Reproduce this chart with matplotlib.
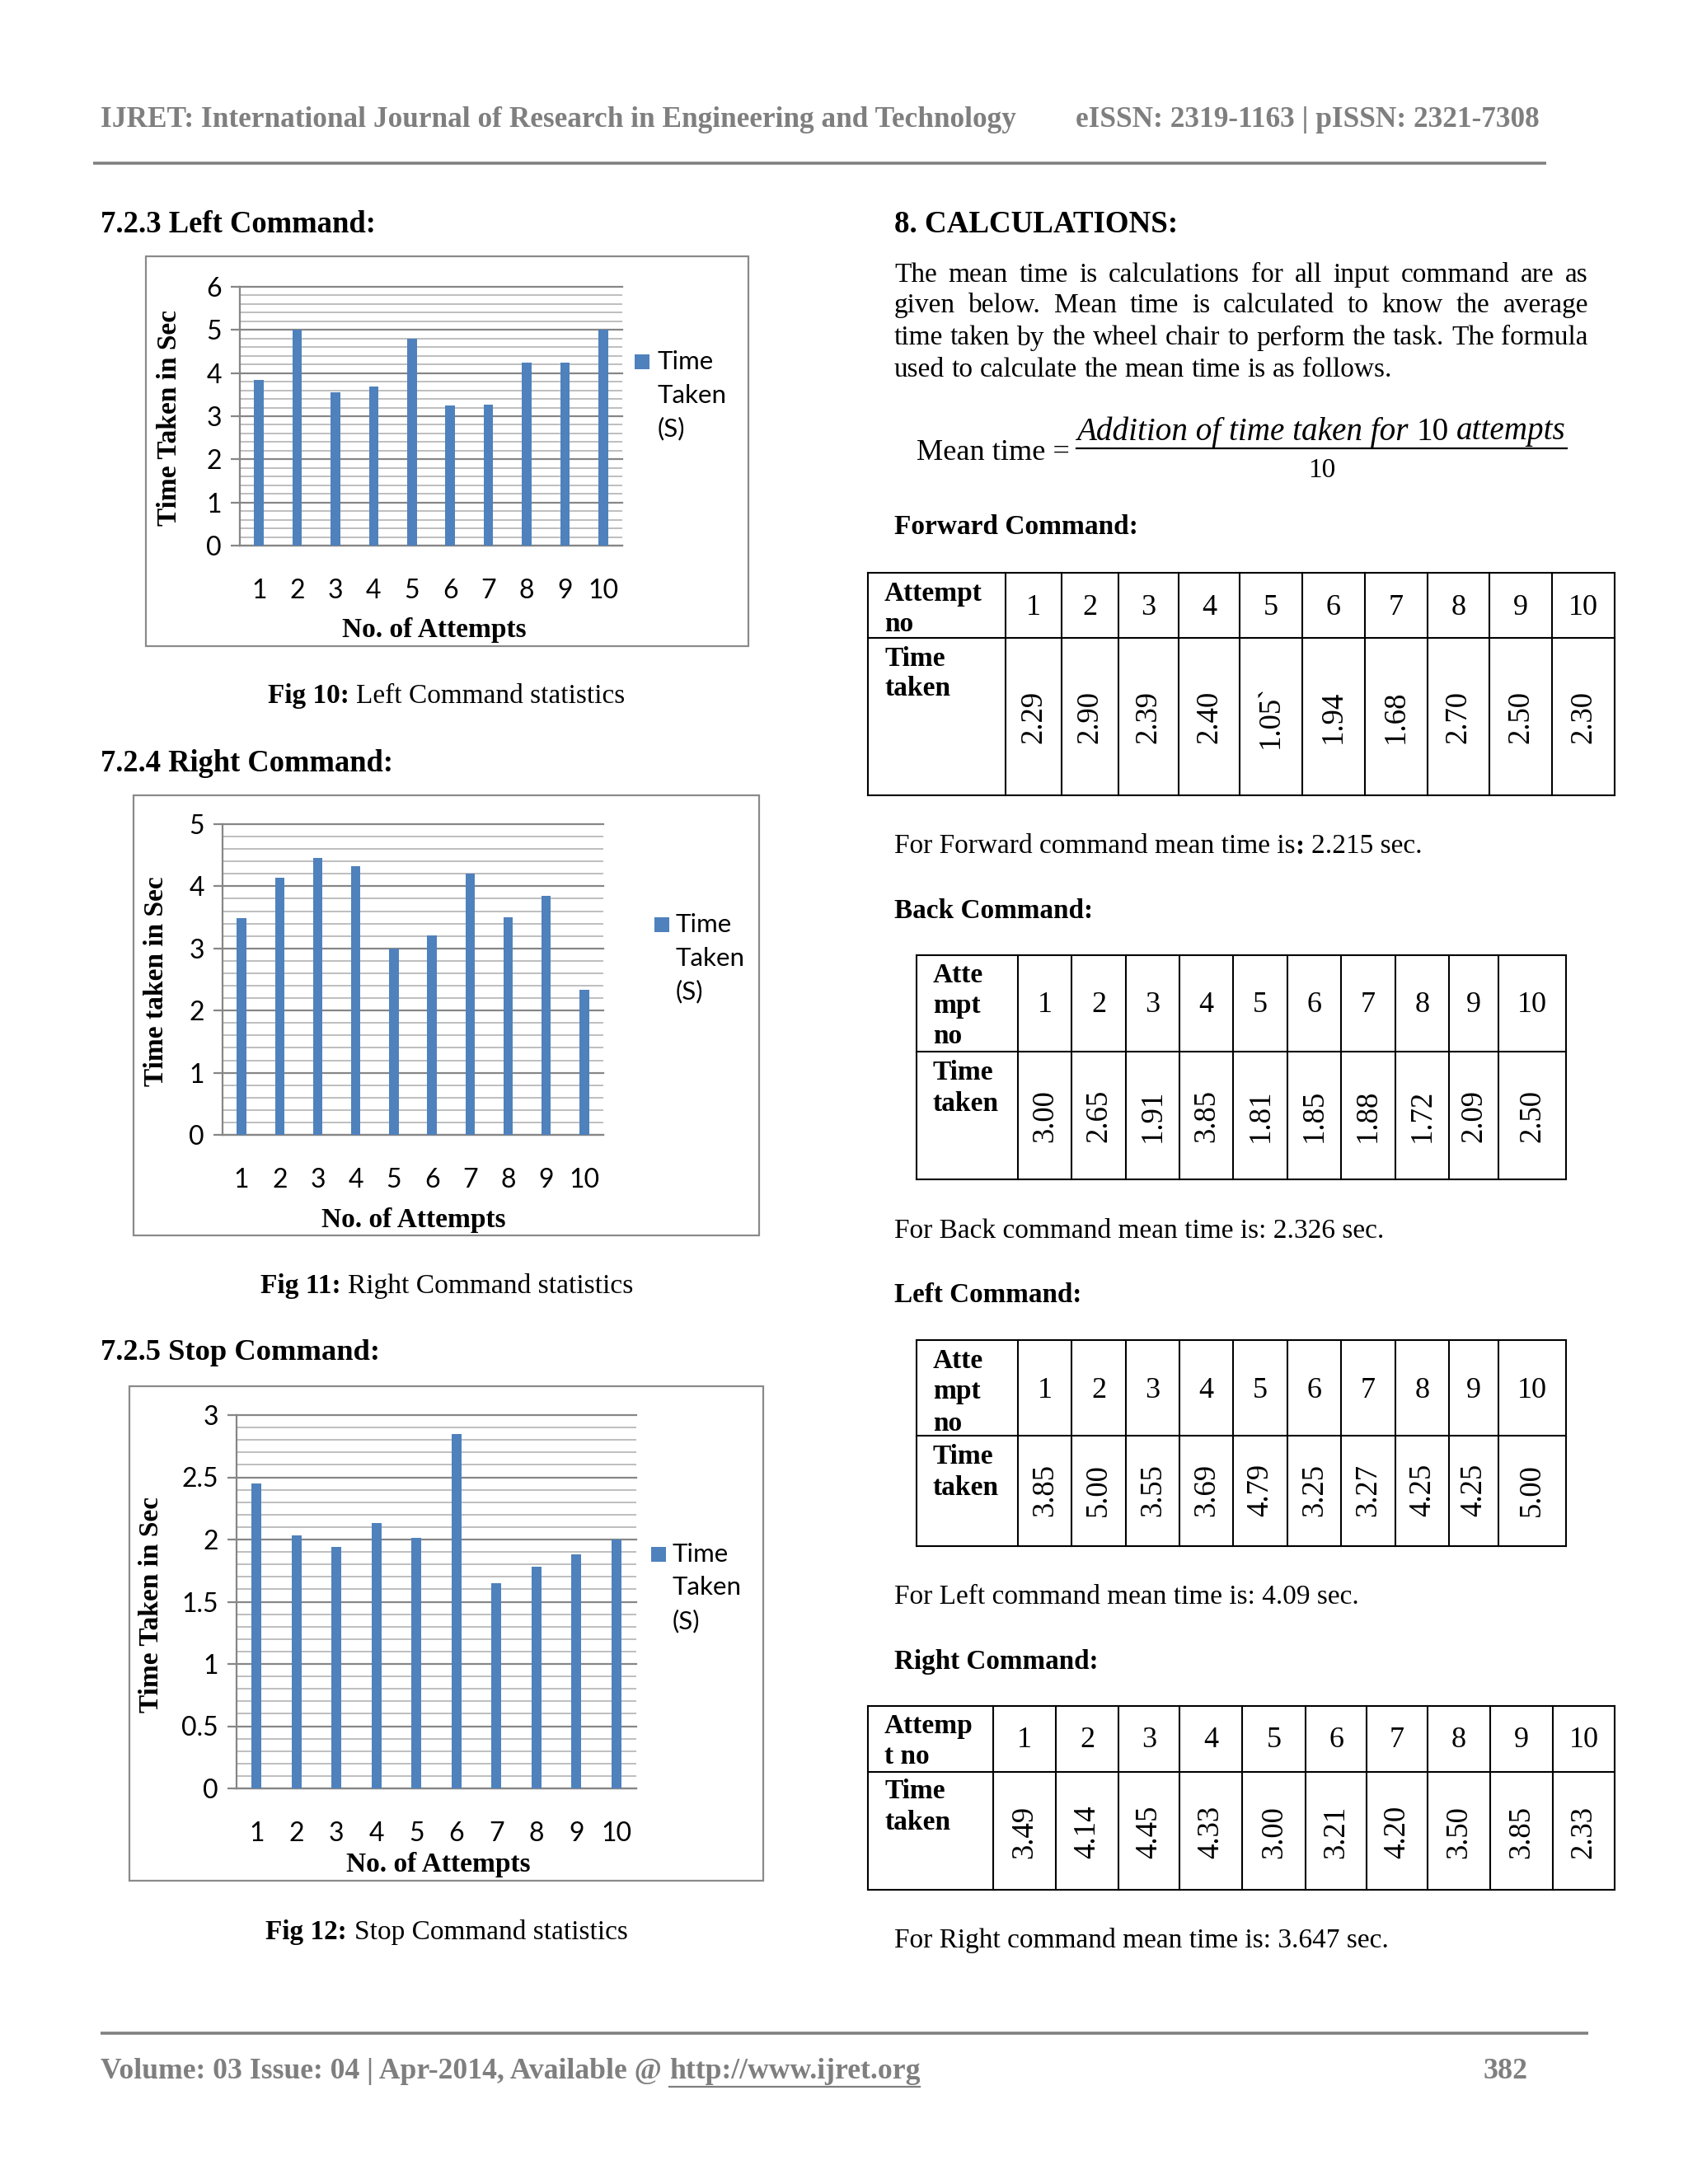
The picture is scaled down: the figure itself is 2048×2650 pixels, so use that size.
import matplotlib
matplotlib.use('Agg')
import matplotlib.pyplot as plt
from matplotlib.patches import Rectangle
from matplotlib.ticker import FuncFormatter
import numpy as np

W, H = 2048, 2650
SERIF = ['Liberation Serif', 'DejaVu Serif']
SANS = ['Lato', 'DejaVu Sans']
BAR = '#4F81BD'
GRAYTXT = '#7f7f7f'
DY = 3  # baseline nudge for page text

# ---------------- data ----------------
attempts = list(range(1, 11))
left_times = [3.85, 5.00, 3.55, 3.69, 4.79, 3.25, 3.27, 4.25, 4.25, 5.00]
right_times = [3.49, 4.14, 4.45, 4.33, 3.00, 3.21, 4.20, 3.50, 3.85, 2.33]
stop_times = [2.45, 2.03, 1.94, 2.13, 2.01, 2.85, 1.65, 1.78, 1.88, 2.00]
forward_table = ['2.29', '2.90', '2.39', '2.40', '1.05`', '1.94', '1.68', '2.70', '2.50', '2.30']
back_table = ['3.00', '2.65', '1.91', '3.85', '1.81', '1.85', '1.88', '1.72', '2.09', '2.50']
left_table = [f'{v:.2f}' for v in left_times]
right_table = [f'{v:.2f}' for v in right_times]
legend_label = ['Time', 'Taken', '(S)']

header_left = 'IJRET: International Journal of Research in Engineering and Technology'
header_right = 'eISSN: 2319-1163 | pISSN: 2321-7308'
footer_left = 'Volume: 03 Issue: 04 | Apr-2014, Available @'
footer_url = 'http://www.ijret.org'
page_no = '382'
paragraph = ['The mean time is calculations for all input command are as',
             'given below. Mean time is calculated to know the average',
             'time taken by the wheel chair to perform the task. The formula',
             'used to calculate the mean time is as follows.']

# ---------------- page ----------------
fig = plt.figure(figsize=(W / 100, H / 100), dpi=100)
fig.patch.set_facecolor('white')
page = fig.add_axes([0, 0, 1, 1])
page.set_xlim(0, W)
page.set_ylim(H, 0)
page.axis('off')
R = fig.canvas.get_renderer()


def twidth(s, size, weight='normal', style='normal', family=SERIF):
    t = page.text(0, 0, s, fontsize=size, fontweight=weight, fontstyle=style, family=family)
    w = t.get_window_extent(R).width
    t.remove()
    return w


def run(x, y, parts, size, ha='left', target=None, color='black', family=SERIF, va='center'):
    """parts: list of (text, weight, style, space_after)"""
    def measure(sz):
        ws = [twidth(p[0], sz, p[1], p[2], family) for p in parts]
        sp = twidth('a a', sz, family=family) - twidth('aa', sz, family=family)
        gaps = [sp if p[3] else 0 for p in parts]
        return ws, gaps
    ws, gaps = measure(size)
    total = sum(ws) + sum(gaps[:-1])
    if target:
        size = size * target / total
        ws, gaps = measure(size)
        total = sum(ws) + sum(gaps[:-1])
    x0 = x - total / 2 if ha == 'center' else (x - total if ha == 'right' else x)
    start = x0
    for p, w, g in zip(parts, ws, gaps):
        page.text(x0, y + DY, p[0], fontsize=size, fontweight=p[1], fontstyle=p[2],
                  family=family, color=color, ha='left', va=va)
        x0 += w + g
    return start, x0, size


def txt(x, y, s, size, weight='normal', **kw):
    kw.setdefault('family', SERIF)
    kw.setdefault('va', 'center')
    page.text(x, y + DY, s, fontsize=size, fontweight=weight, **kw)


# header / footer
run(122, 142, [(header_left, 'bold', 'normal', False)], 29, target=1109, color=GRAYTXT)
run(1305, 142, [(header_right, 'bold', 'normal', False)], 29, target=562, color=GRAYTXT)
page.plot([113, 1876], [198, 198], color='#808080', lw=2.6, solid_capstyle='butt')
page.plot([122, 1927], [2467, 2467], color='#808080', lw=2.6, solid_capstyle='butt')
s0, s1, fsz = run(122, 2511, [(footer_left, 'bold', 'normal', True), (footer_url, 'bold', 'normal', False)],
                  29, target=993, color=GRAYTXT)
uw = twidth(footer_url, fsz, 'bold')
page.plot([s1 - uw, s1], [2529 + DY, 2529 + DY], color=GRAYTXT, lw=1.6)
run(1854, 2511, [(page_no, 'bold', 'normal', False)], 29, ha='right', target=54, color=GRAYTXT)

# ---------------- left column headings / captions ----------------
run(122, 270, [('7.2.3 Left Command:', 'bold', 'normal', False)], 26, target=334)
run(122, 923, [('7.2.4 Right Command:', 'bold', 'normal', False)], 26, target=356)
run(122, 1639, [('7.2.5 Stop Command:', 'bold', 'normal', False)], 26, target=339)
run(542, 842, [('Fig 10:', 'bold', 'normal', True), ('Left Command statistics', 'normal', 'normal', False)], 24, ha='center', target=433)
run(542, 1558, [('Fig 11:', 'bold', 'normal', True), ('Right Command statistics', 'normal', 'normal', False)], 24, ha='center', target=453)
run(542, 2341, [('Fig 12:', 'bold', 'normal', True), ('Stop Command statistics', 'normal', 'normal', False)], 24, ha='center', target=439)


# ---------------- charts ----------------
def bar_chart(box, plot, values, ymax, major, minor, ylabel, ylab_xy, xlab_xy, leg_xy, leg_x, leg_ys):
    bx0, by0, bx1, by1 = box
    page.add_patch(Rectangle((bx0, by0), bx1 - bx0, by1 - by0, fill=False,
                             edgecolor='#8a8a8a', lw=1.6))
    px0, py0, px1, py1 = plot
    ax = fig.add_axes([px0 / W, 1 - py1 / H, (px1 - px0) / W, (py1 - py0) / H])
    ax.set_facecolor('none')
    ax.bar(attempts, values, width=0.25, color=BAR, zorder=3)
    ax.set_xlim(0.5, 10.5)
    ax.set_ylim(0, ymax)
    ax.set_xticks(attempts)
    ax.set_yticks(np.arange(0, ymax + 1e-9, major))
    ax.set_yticks(np.arange(0, ymax + 1e-9, minor), minor=True)
    ax.yaxis.set_major_formatter(FuncFormatter(lambda v, p: f'{v:g}'))
    ax.yaxis.grid(True, which='minor', color='#b9b9b9', lw=1.3, zorder=0)
    ax.yaxis.grid(True, which='major', color='#868686', lw=1.6, zorder=1)
    ax.set_axisbelow(True)
    ax.tick_params(axis='x', length=0, pad=29, labelsize=23)
    ax.tick_params(axis='y', which='major', length=8, width=1.6, color='#868686',
                   pad=8, labelsize=23)
    ax.tick_params(axis='y', which='minor', length=0)
    for lab in ax.get_xticklabels() + ax.get_yticklabels():
        lab.set_family(SANS)
    for s in ['top', 'right']:
        ax.spines[s].set_visible(False)
    ax.spines['left'].set_color('#868686')
    ax.spines['left'].set_linewidth(1.6)
    ax.spines['bottom'].set_color('#868686')
    ax.spines['bottom'].set_linewidth(1.6)
    for gl in ax.yaxis.get_gridlines():
        gl.set_clip_on(False)
    txt(ylab_xy[0], ylab_xy[1], ylabel, 24, 'bold', rotation=90, ha='center')
    txt(xlab_xy[0], xlab_xy[1], 'No. of Attempts', 24, 'bold', ha='center')
    page.add_patch(Rectangle((leg_xy[0] - 9, leg_xy[1] - 9 + DY), 18, 18, color=BAR, lw=0))
    for s, yy in zip(legend_label, leg_ys):
        txt(leg_x, yy, s, 22.5, family=SANS, ha='left')
    return ax


bar_chart((177, 311, 908, 784), (291, 348, 755, 662), left_times, 6, 1, 0.2,
          'Time Taken in Sec', (206, 504), (527, 762), (779, 436), 798, [436, 477, 517])
bar_chart((162, 965, 921, 1499), (270, 1000, 732, 1377), right_times, 5, 1, 0.2,
          'Time taken in Sec', (189, 1188), (502, 1477), (803, 1119), 820, [1119, 1160, 1200])
bar_chart((157, 1682, 926, 2282), (287, 1717, 772, 2170), stop_times, 3, 0.5, 0.1,
          'Time Taken in Sec', (184, 1944), (532, 2260), (799, 1883), 816, [1883, 1923, 1964])

# ---------------- right column ----------------
run(1085, 270, [('8. CALCULATIONS:', 'bold', 'normal', False)], 26, target=345)

# justified paragraph
BODY = 24
para_ys = [331, 368, 407, 446]
for i, (line, yy) in enumerate(zip(paragraph, para_ys)):
    words = line.split(' ')
    ws = [twidth(w, BODY) for w in words]
    if i < len(paragraph) - 1:
        gap = (842 - sum(ws)) / (len(words) - 1)
    else:
        gap = twidth('a a', BODY) - twidth('aa', BODY)
    xx = 1085
    for w, wd in zip(words, ws):
        txt(xx, yy, w, BODY)
        xx += wd + gap

# formula
run(1112, 546, [('Mean time =', 'normal', 'normal', False)], 24, target=186)
run(1306, 521, [('Addition of time taken for', 'normal', 'italic', True),
                ('10', 'normal', 'normal', True),
                ('attempts', 'normal', 'italic', False)], 24, target=595)
page.plot([1306, 1901], [544, 544], color='black', lw=1.6)
txt(1604, 568, '10', 24, ha='center')

# section labels and means
run(1085, 637, [('Forward Command:', 'bold', 'normal', False)], 24, target=296)
run(1085, 1024, [('For Forward command mean time is', 'normal', 'normal', False),
                 (':', 'bold', 'normal', True), ('2.215 sec.', 'normal', 'normal', False)], 24, target=642)
run(1085, 1102, [('Back Command:', 'bold', 'normal', False)], 24, target=242)
run(1085, 1491, [('For Back command mean time is: 2.326 sec.', 'normal', 'normal', False)], 24, target=595)
run(1085, 1568, [('Left Command:', 'bold', 'normal', False)], 24, target=228)
run(1085, 1935, [('For Left command mean time is: 4.09 sec.', 'normal', 'normal', False)], 24, target=564)
run(1085, 2013, [('Right Command:', 'bold', 'normal', False)], 24, target=248)
run(1085, 2352, [('For Right command mean time is: 3.647 sec.', 'normal', 'normal', False)], 24, target=600)


def table(xs, y0, ysplit, y1, head_lines, head_ys, num_y, time_ys, values, val_y):
    lw = 1.5
    for yy in (y0, ysplit, y1):
        page.plot([xs[0], xs[-1]], [yy, yy], color='black', lw=lw, solid_capstyle='projecting')
    for xx in xs:
        page.plot([xx, xx], [y0, y1], color='black', lw=lw, solid_capstyle='projecting')
    for s, yy in zip(head_lines, head_ys):
        txt(xs[0] + 20, yy, s, 24, 'bold')
    for s, yy in zip(['Time', 'taken'], time_ys):
        txt(xs[0] + 20, yy, s, 24, 'bold')
    for i, n in enumerate(attempts):
        cx = (xs[i + 1] + xs[i + 2]) / 2
        txt(cx, num_y, str(n), 26, ha='center')
        txt(cx, val_y - DY, values[i], 26.5, ha='center', rotation=90, rotation_mode='anchor')


table([1053, 1220, 1288, 1357, 1430, 1504, 1580, 1656, 1732, 1807, 1883, 1959],
      695, 774, 965, ['Attempt', 'no'], [717, 755], 735, [796, 833], forward_table, 870)
table([1112, 1235, 1300, 1366, 1431, 1496, 1562, 1627, 1693, 1758, 1818, 1900],
      1159, 1276, 1431, ['Atte', 'mpt', 'no'], [1181, 1218, 1254], 1217, [1298, 1337], back_table, 1354)
table([1112, 1235, 1300, 1366, 1431, 1496, 1562, 1627, 1693, 1758, 1818, 1900],
      1626, 1742, 1876, ['Atte', 'mpt', 'no'], [1648, 1685, 1724], 1685, [1764, 1803], left_table, 1808)
table([1053, 1205, 1281, 1357, 1431, 1507, 1584, 1658, 1732, 1808, 1884, 1959],
      2070, 2150, 2293, ['Attemp', 't no'], [2092, 2129], 2109, [2170, 2209], right_table, 2223)

fig.savefig('out.png', dpi=100, facecolor='white')
